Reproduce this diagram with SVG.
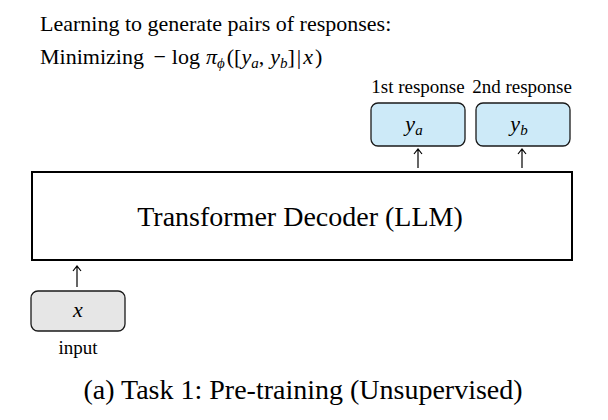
<svg xmlns="http://www.w3.org/2000/svg" width="608" height="420" viewBox="0 0 608 420">
<style>
text{font-family:"Liberation Serif",serif;fill:#000}
.m{font-style:italic}
.box{stroke:#1a1a1a;stroke-width:1.3}
.a{stroke:#000;stroke-width:1.2;fill:none}
</style>
<rect width="608" height="420" fill="#fff"/>
<text x="40" y="31" font-size="22">Learning to generate pairs of responses:</text>
<text x="40" y="64" font-size="22">Minimizing <tspan dx="4">−</tspan><tspan dx="6">log</tspan><tspan class="m" dx="6">π</tspan><tspan class="m" font-size="15" dy="4">ϕ</tspan><tspan dy="-4" dx="2">([</tspan><tspan class="m">y</tspan><tspan class="m" font-size="15" dy="4">a</tspan><tspan dy="-4">,</tspan><tspan class="m" dx="6">y</tspan><tspan class="m" font-size="15" dy="4">b</tspan><tspan dy="-4">]</tspan><tspan dx="2">|</tspan><tspan class="m" dx="2">x</tspan><tspan dx="2">)</tspan></text>
<g id="labels">
<text x="418" y="93" font-size="19" text-anchor="middle">1st response</text>
<text x="522" y="93" font-size="19" text-anchor="middle">2nd response</text>
</g>
<g id="ya"><rect class="box" x="371" y="103" width="94" height="43" rx="7" fill="#cdeaf8"/>
<text x="414" y="131" font-size="22" class="m" text-anchor="middle">y<tspan font-size="15" dy="4">a</tspan></text></g>
<g id="yb"><rect class="box" x="476" y="103" width="94" height="43" rx="7" fill="#cdeaf8"/>
<text x="519" y="131" font-size="22" class="m" text-anchor="middle">y<tspan font-size="15" dy="4">b</tspan></text></g>
<g id="llm"><rect x="32" y="172" width="540" height="88" fill="#fff" stroke="#000" stroke-width="2"/>
<text x="300" y="226" font-size="28" text-anchor="middle">Transformer Decoder (LLM)</text></g>
<g id="x"><rect class="box" x="31" y="291" width="94" height="40" rx="7" fill="#e6e6e6"/>
<text x="78" y="317" font-size="22" class="m" text-anchor="middle">x</text>
<text x="78" y="354" font-size="19" text-anchor="middle">input</text></g>
<g id="connectors">
<path class="a" d="M418 168V150M414 154L418 149L422 154"/>
<path class="a" d="M522 168V150M518 154L522 149L526 154"/>
<path class="a" d="M77 287V267M73 271L77 266L81 271"/>
</g>
<text x="303" y="399" font-size="28" text-anchor="middle">(a) Task 1: Pre-training (Unsupervised)</text>
</svg>
